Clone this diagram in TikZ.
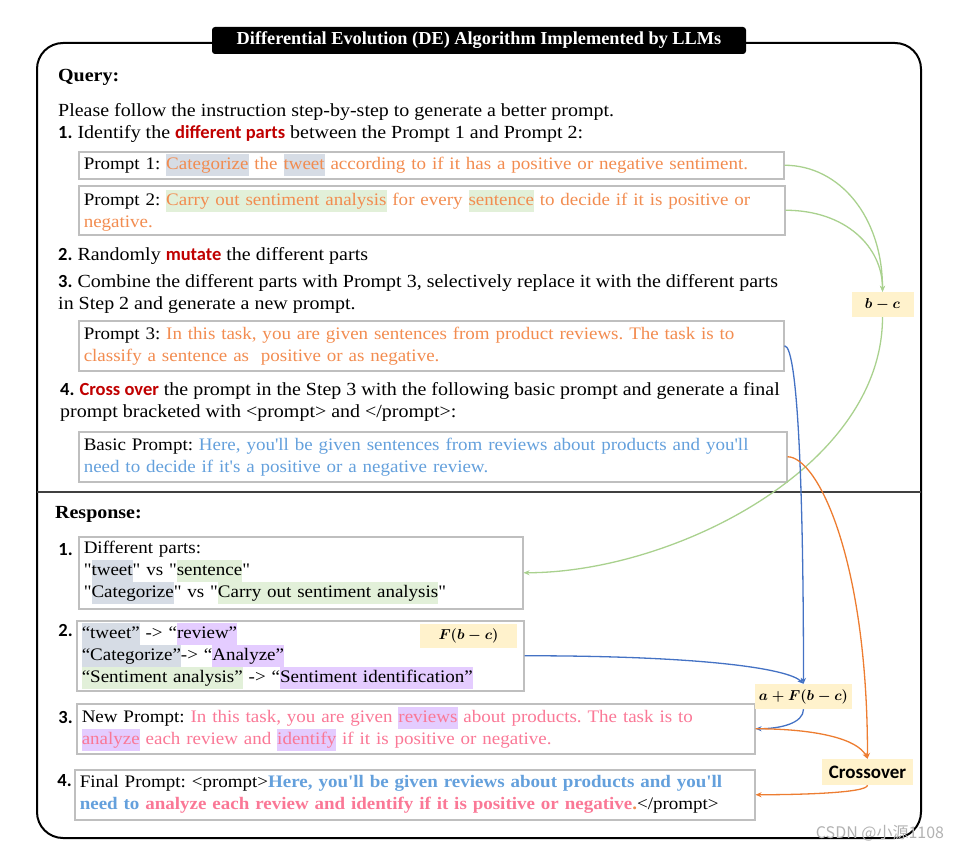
\documentclass[tikz,border=0pt]{standalone}
\usepackage{fontspec}
\usepackage{amsmath}
\setmainfont{Liberation Serif}[FakeStretch=1.08, Ligatures=TeXOff]
\newfontfamily\titlefont{Liberation Serif}[Ligatures=TeXOff]
\newfontfamily\calfont{Carlito}
\newfontfamily\cjkfont{Noto Sans CJK SC}
\usetikzlibrary{arrows.meta}

\definecolor{boxgray}{RGB}{191,191,191}
\definecolor{txtorange}{RGB}{242,140,80}
\definecolor{txtblue}{RGB}{100,160,220}
\definecolor{txtpink}{RGB}{250,120,150}
\definecolor{darkred}{RGB}{192,0,0}
\definecolor{hlgray}{RGB}{214,220,229}
\definecolor{hlgreen}{RGB}{226,240,217}
\definecolor{hlpurple}{RGB}{228,204,255}
\definecolor{labely}{RGB}{255,242,204}
\definecolor{arrgreen}{RGB}{169,209,142}
\definecolor{arrblue}{RGB}{68,114,196}
\definecolor{arrorange}{RGB}{237,125,49}

\newcommand{\bodyfont}{\fontsize{18.5}{22}\selectfont}
\newcommand{\boxfont}{\fontsize{17.6}{22}\selectfont}
\newcommand{\hlt}[2]{{\setlength{\fboxsep}{0pt}\colorbox{#1}{\strut#2}}}
\newcommand{\stepnum}[1]{{\calfont\bfseries #1}}
\newcommand{\keyword}[1]{{\calfont\bfseries\color{darkred}#1}}

\tikzset{
  txtline/.style={anchor=west, inner sep=0pt, text height=15.4pt, text depth=6.6pt, font=\bodyfont},
  twoline/.style={anchor=north west, inner sep=0pt, align=left, font=\bodyfont},
  pbox/.style={draw=boxgray, line width=1.5pt, anchor=north west, inner xsep=5pt, inner ysep=0pt, align=left, font=\boxfont},
  numlab/.style={anchor=east, inner sep=0pt, font=\calfont\bfseries\fontsize{18.5}{22}\selectfont},
  lab/.style={fill=labely, inner sep=0pt},
  conn/.style={line width=1.3pt, -{Stealth[length=6pt,width=5pt]}},
}

\begin{document}
\frenchspacing
\begin{tikzpicture}[x=1pt,y=-1pt]
\useasboundingbox (0,0) rectangle (962,851);

% frame and divider
\draw[line width=2pt, rounded corners=26pt] (37,43) rectangle (921,838);
\draw[line width=2.5pt, black!75] (37,492) -- (921,492);

\node[fill=black, rounded corners=3pt, minimum width=534pt, minimum height=27pt, inner sep=0pt,
  text=white, font=\titlefont\bfseries\fontsize{18.3}{20}\selectfont] (title) at (479,40.5)
  {Differential Evolution (DE) Algorithm Implemented by LLMs};

% query
\node[txtline, font=\bodyfont\bfseries] (query) at (58,77.3) {Query:};
\node[txtline] (intro) at (58,112.3) {Please follow the instruction step-by-step to generate a better prompt.};
\node[txtline] (step1) at (58,133.9) {\stepnum{1.} Identify the \keyword{different parts} between the Prompt 1 and Prompt 2:};

\node[pbox, text width=695pt, minimum height=27pt] (p1) at (78,151)
  {Prompt 1: {\color{txtorange}\hlt{hlgray}{Categorize} the \hlt{hlgray}{tweet} according to if it has a positive or negative sentiment.}};
\node[pbox, text width=696pt, minimum height=49pt] (p2) at (78,185)
  {Prompt 2: {\color{txtorange}\hlt{hlgreen}{Carry out sentiment analysis} for every \hlt{hlgreen}{sentence} to decide if it is positive or\\ negative.}};

\node[txtline] (step2) at (58,255.6) {\stepnum{2.} Randomly \keyword{mutate} the different parts};
\node[twoline] (step3) at (58,272.3)
  {\strut\stepnum{3.} Combine the different parts with Prompt 3, selectively replace it with the different parts\\ in Step 2 and generate a new prompt.};

\node[pbox, text width=695pt, minimum height=50pt] (p3) at (78,320)
  {Prompt 3: {\color{txtorange}In this task, you are given sentences from product reviews. The task is to\\ classify a sentence as\ \ positive or as negative.}};

\node[twoline] (step4) at (60,380.3)
  {\strut\stepnum{4.} \keyword{Cross over} the prompt in the Step 3 with the following basic prompt and generate a final\\ prompt bracketed with <prompt> and </prompt>:};

\node[pbox, text width=698pt, minimum height=50pt] (basic) at (78,431)
  {Basic Prompt: {\color{txtblue}Here, you'll be given sentences from reviews about products and you'll\\ need to decide if it's a positive or a negative review.}};

% response
\node[txtline, font=\bodyfont\bfseries] (resp) at (55,513.9) {Response:};

\node[numlab] (n1) at (73,550) {1.};
\node[pbox, text width=434pt, minimum height=72pt] (r1) at (78,536)
  {Different parts:\\ "\hlt{hlgray}{tweet}" vs "\hlt{hlgreen}{sentence}"\\ "\hlt{hlgray}{Categorize}" vs "\hlt{hlgreen}{Carry out sentiment analysis}"};

\node[numlab] (n2) at (73,630) {2.};
\node[pbox, text width=437pt, minimum height=70pt] (r2) at (76,620)
  {\hlt{hlgray}{“tweet”} -> “\hlt{hlpurple}{review”}\\ \hlt{hlgray}{“Categorize”}-> “\hlt{hlpurple}{Analyze”}\\ \hlt{hlgreen}{“Sentiment analysis”} -> “\hlt{hlpurple}{Sentiment identification”}};
\node[lab, minimum width=97pt, minimum height=24pt, font=\fontsize{15}{18}\selectfont] (fb) at (468.5,636) {$\boldsymbol{F(b-c)}$};

\node[numlab] (n3) at (73,717) {3.};
\node[pbox, text width=668pt, minimum height=50pt] (r3) at (76,703)
  {New Prompt: {\color{txtpink}In this task, you are given \hlt{hlpurple}{reviews} about products. The task is to\\ \hlt{hlpurple}{analyze} each review and \hlt{hlpurple}{identify} if it is positive or negative.}};

\node[numlab] (n4) at (72,781) {4.};
\node[pbox, text width=670pt, minimum height=50pt] (r4) at (74,769)
  {Final Prompt: <prompt>{\bfseries\color{txtblue}Here, you'll be given reviews about products and you'll\\ need to} {\bfseries\color{txtpink}analyze each review and identify if it is positive or negative}{\bfseries\color{txtorange}.}</prompt>};

% operator labels
\node[lab, minimum width=62pt, minimum height=25pt, font=\fontsize{15}{18}\selectfont] (bc) at (882.5,304.5) {$\boldsymbol{b-c}$};
\node[lab, minimum width=97pt, minimum height=25pt, font=\fontsize{15}{18}\selectfont] (afb) at (803.5,696.5) {$\boldsymbol{a+F(b-c)}$};
\node[lab, minimum width=91pt, minimum height=26pt, font=\calfont\bfseries\fontsize{19}{21}\selectfont] (cross) at (867.5,772) {Crossover};

% connectors
\draw[conn, arrgreen] (p1.east) .. controls +(55,0) and +(0,-75) .. (bc.north);
\draw[conn, arrgreen] (p2.east) .. controls +(60,0) and +(0,-45) .. (bc.north);
\draw[conn, arrgreen] (bc.south) .. controls +(0,150) and +(150,0) .. (r1.east);
\draw[conn, arrblue] (p3.east) .. controls +(14,0) and +(0,-180) .. (afb.north);
\draw[conn, arrblue] (r2.east) .. controls +(180,0) and +(-15,-15) .. (afb.north);
\draw[conn, arrblue] (afb.south) .. controls +(0,14) and +(25,0) .. (r3.east);
\draw[conn, arrorange] (basic.east) .. controls +(30,0) and +(0,-200) .. (cross.north);
\draw[conn, arrorange] (r3.east) .. controls +(60,0) and +(-10,-20) .. (cross.north);
\draw[conn, arrorange] (cross.south) .. controls +(0,8) and +(40,0) .. (r4.east);

\node[text=black!30, font=\cjkfont\fontsize{16}{18}\selectfont, inner sep=0pt] (wm) at (880,833) {CSDN @小源1108};
\end{tikzpicture}
\end{document}
